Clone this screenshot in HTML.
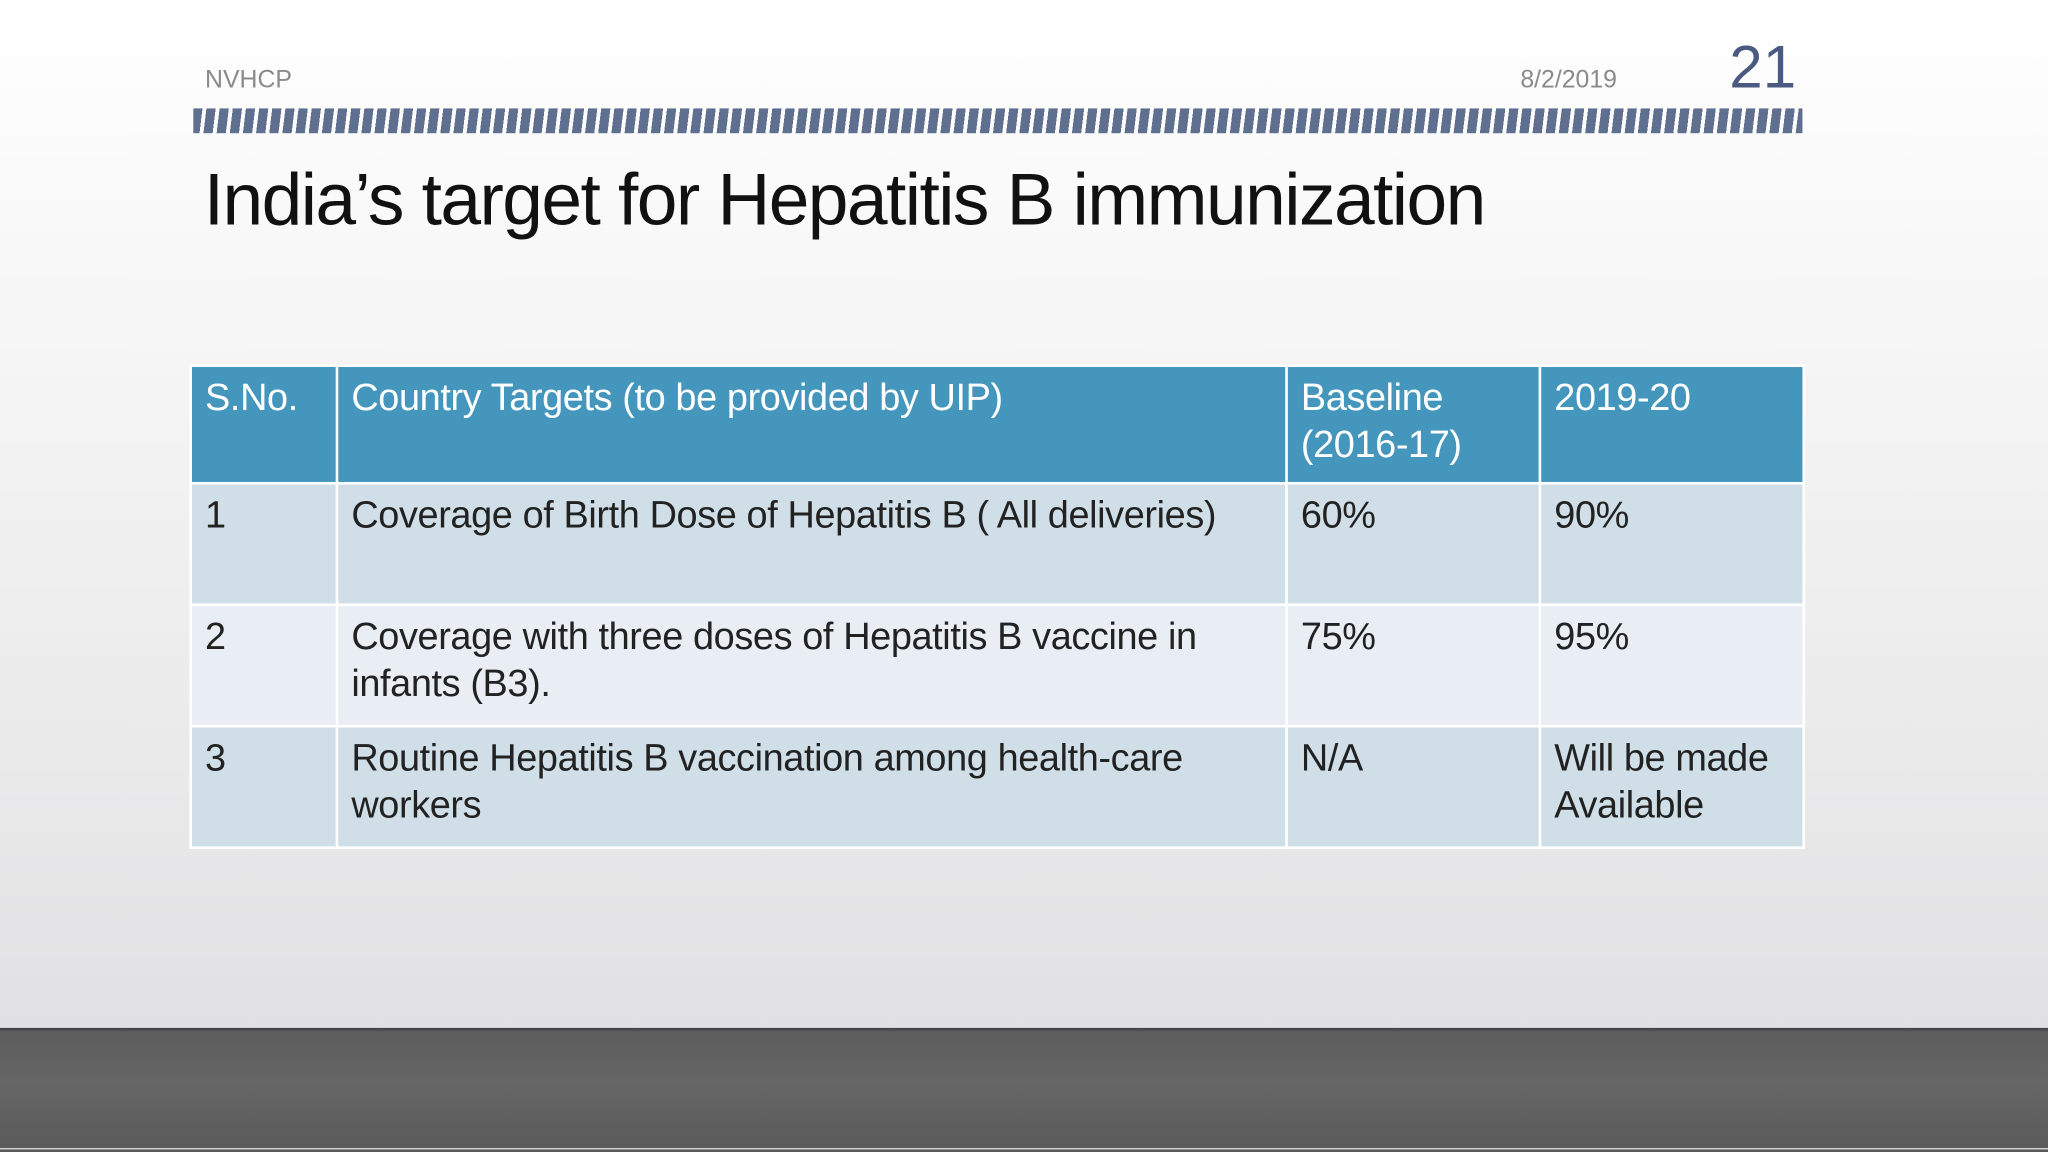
<!DOCTYPE html>
<html><head><meta charset="utf-8"><style>
html,body{margin:0;padding:0;width:2048px;height:1152px;overflow:hidden;}
#s{position:absolute;left:0;top:0;width:1568px;height:882px;transform:scale(1.30612);transform-origin:0 0;
background:linear-gradient(#ffffff 0px,#f6f6f6 250px,#e9e9ea 600px,#e1e1e3 787px);font-family:"Liberation Sans",sans-serif;overflow:hidden;}
.floor{position:absolute;left:0;top:787px;width:1568px;height:95px;background:linear-gradient(#3e3e3e 0,#5d5d5d 3px,#666 40px,#5a5a5a 95px);}
.floor:after{content:"";position:absolute;left:0;bottom:2px;width:100%;height:1px;background:#ddd;}
.t{position:absolute;white-space:nowrap;}
.stripe{position:absolute;left:148px;top:83px;width:1232px;height:19px;
background:repeating-linear-gradient(97deg,#5f6f8f 0 7px,transparent 7px 10px);}
table{position:absolute;left:145px;top:279px;border-collapse:collapse;font-size:29px;}
td{border:2px solid #fff;vertical-align:top;padding:6px 10px;line-height:36px;color:#222;letter-spacing:-0.3px}
tr.h td{background:#4596bd;color:#fff;height:76px;}
tr.a td{background:#d0dfe7;height:79px;}
tr.b td{background:#e8eef4;height:79px;}
</style></head><body>
<div id="s">
<div class="t" style="left:157px;top:51px;font-size:19px;color:#8a8a8a">NVHCP</div>
<div class="t" style="left:1164px;top:51px;font-size:19px;color:#8a8a8a">8/2/2019</div>
<div class="t" style="left:1324px;top:24px;font-size:46px;color:#4a5a80">21</div>
<div class="stripe"></div>
<div class="t" style="left:156px;top:120px;font-size:56px;color:#111;letter-spacing:-1.2px">India’s target for Hepatitis B immunization</div>
<table>
<tr class="h"><td style="width:90px">S.No.</td><td style="width:705px">Country Targets (to be provided by UIP)</td><td style="width:172px">Baseline<br>(2016-17)</td><td style="width:180px">2019-20</td></tr>
<tr class="a"><td>1</td><td>Coverage of Birth Dose of Hepatitis B ( All deliveries)</td><td>60%</td><td>90%</td></tr>
<tr class="b"><td>2</td><td>Coverage with three doses of Hepatitis B vaccine in<br>infants (B3).</td><td>75%</td><td>95%</td></tr>
<tr class="a"><td>3</td><td>Routine Hepatitis B vaccination among health-care<br>workers</td><td>N/A</td><td>Will be made<br>Available</td></tr>
</table>
<div class="floor"></div>
</div>
</body></html>
